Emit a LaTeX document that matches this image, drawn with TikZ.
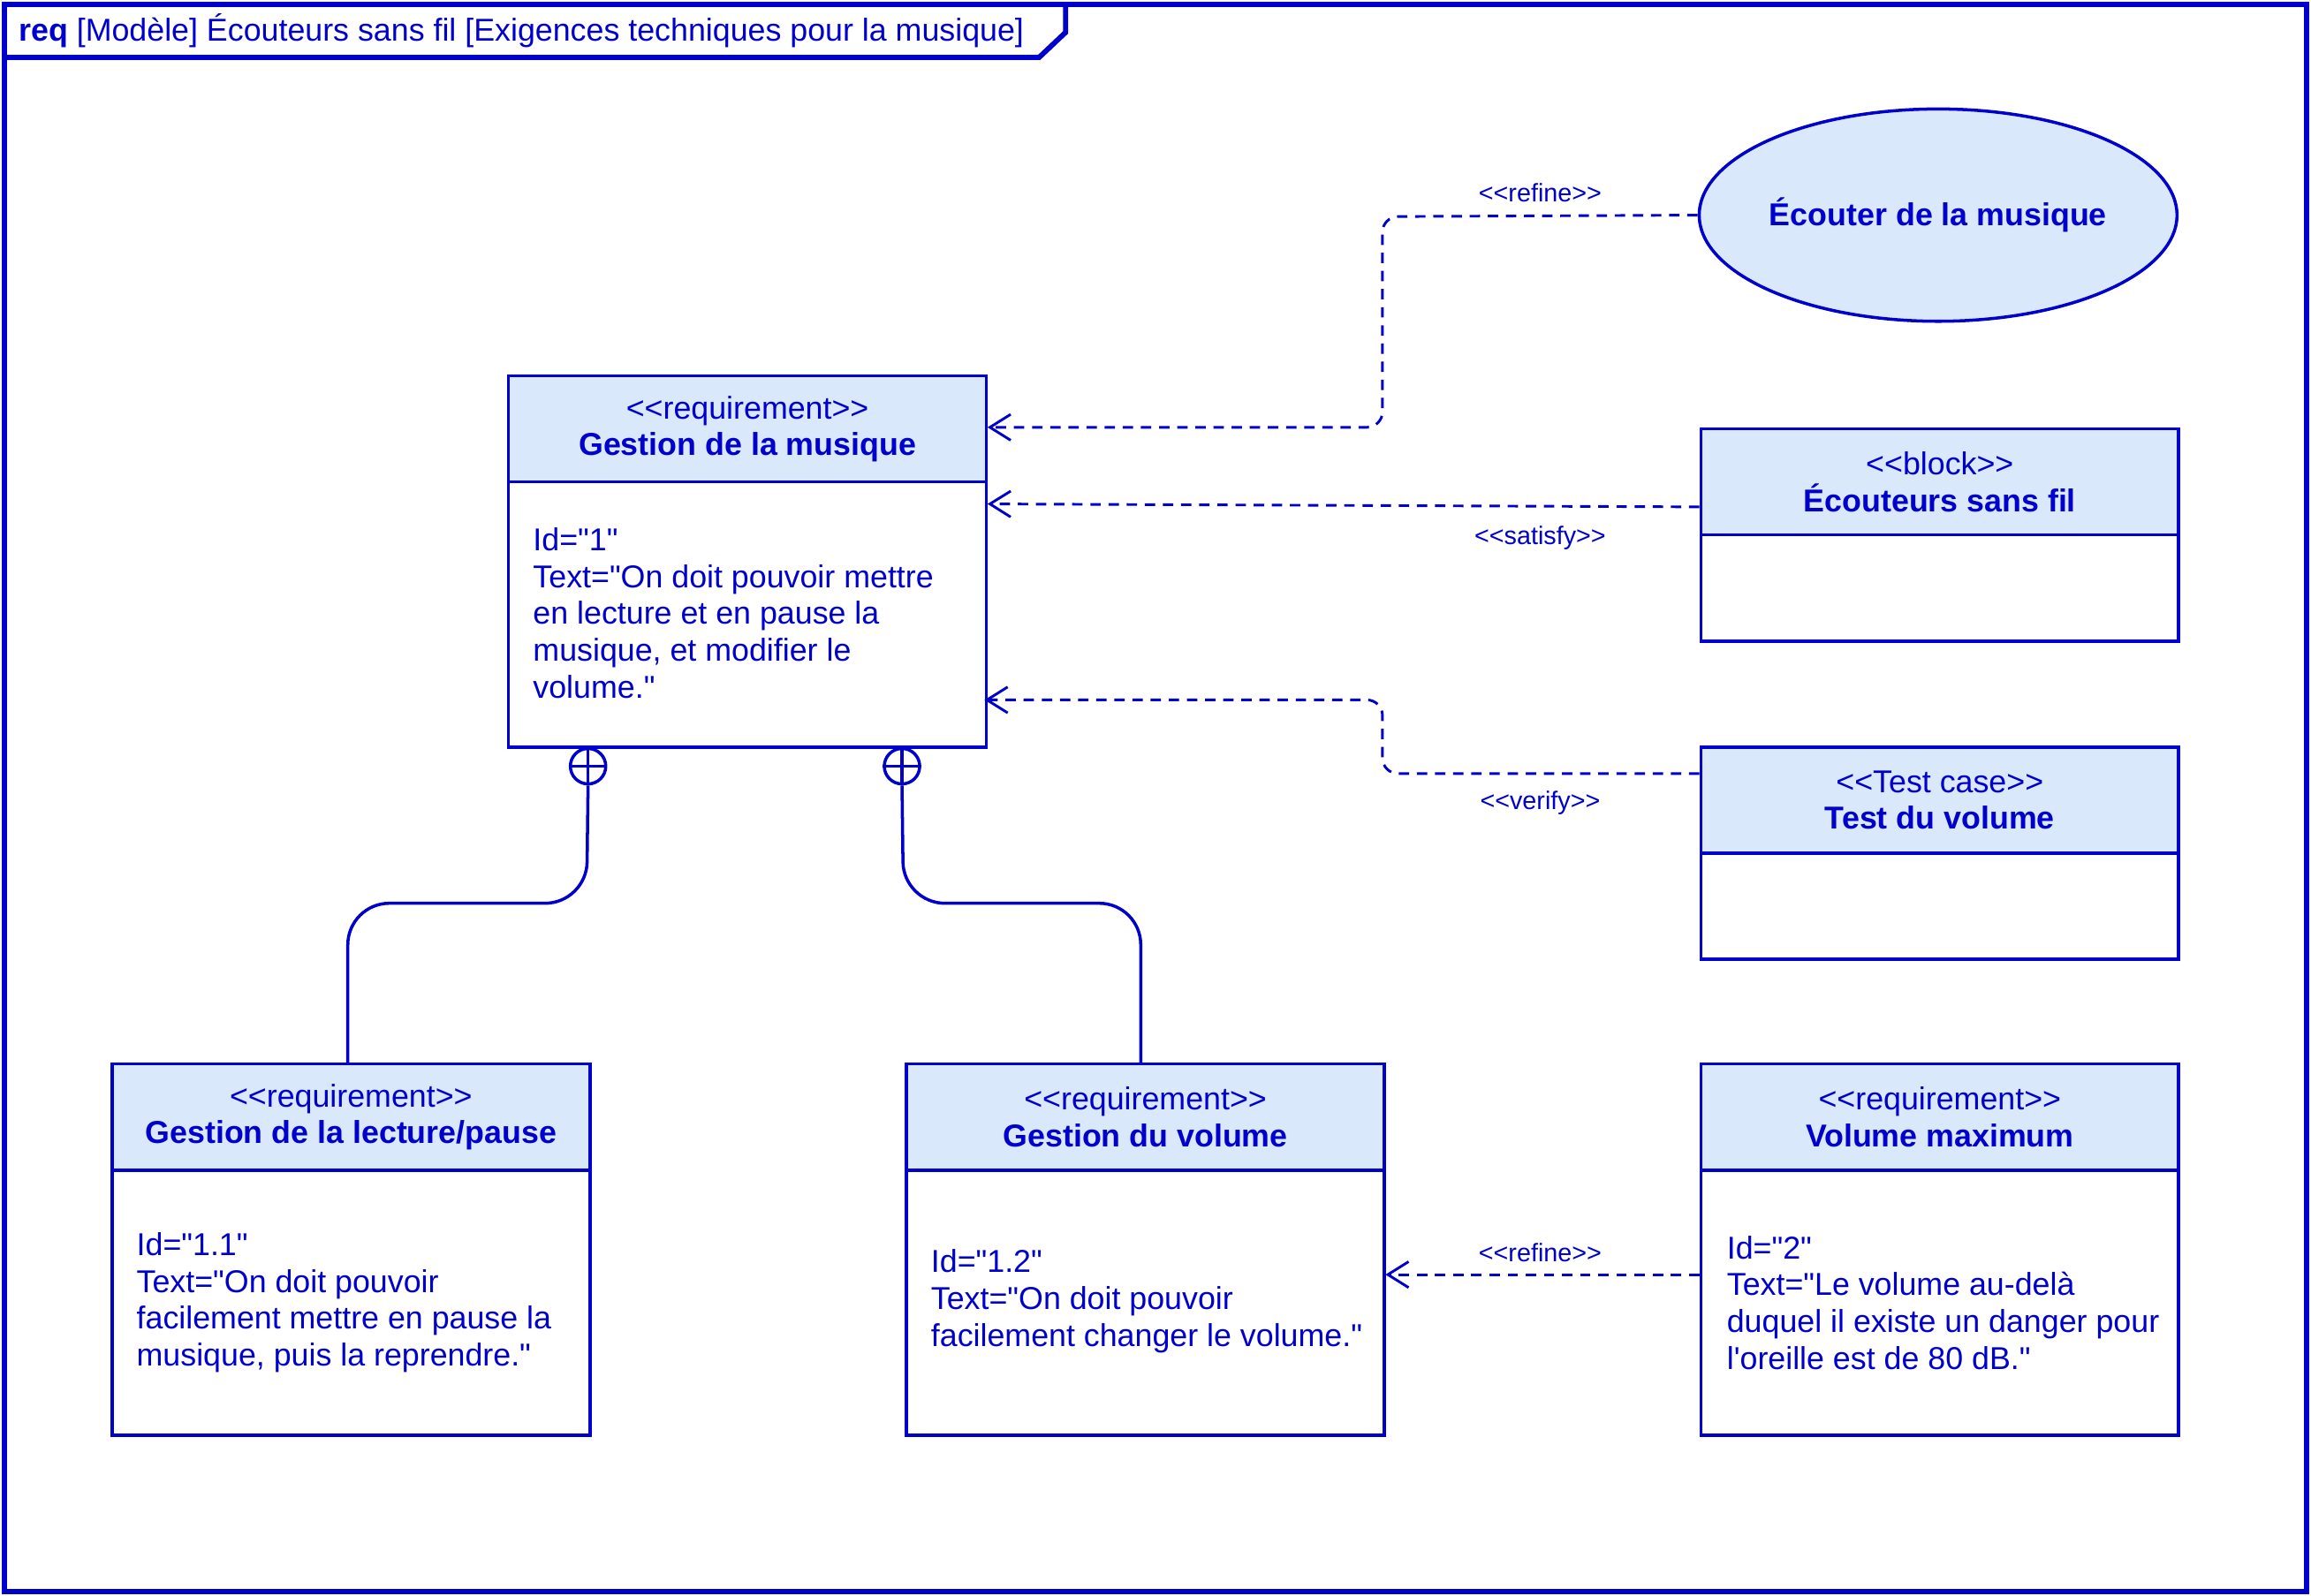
\documentclass[tikz,border=0pt]{standalone}
\usepackage{fontspec}
\setmainfont{Liberation Sans}[Ligatures=TeXOff]
\usetikzlibrary{arrows.meta,shapes.geometric}
\definecolor{bl}{HTML}{0000CC}
\definecolor{fl}{HTML}{DAE8FC}
\newcommand\stt[1]{<{}<#1>{}>}
\begin{document}
\begin{tikzpicture}[x=0.01cm,y=-0.01cm,
  every node/.style={text=bl,font=\fontsize{6.1}{7.1}\selectfont,inner sep=0pt},
  hdr/.style={draw=bl,fill=fl,line width=0.6pt,minimum width=3.24cm,minimum height=0.72cm,anchor=north west,align=center},
  bdy/.style={draw=bl,fill=white,line width=0.6pt,minimum width=3.24cm,anchor=north west},
  txt/.style={anchor=west,align=left},
  lbl/.style={font=\fontsize{4.9}{5.5}\selectfont},
  dep/.style={draw=bl,line width=0.5pt,dash pattern=on 2pt off 1.5pt,rounded corners=3pt,-{Straight Barb[open,length=4pt,width=5pt]}},
  cont/.style={draw=bl,line width=0.6pt,rounded corners=8pt}]
\useasboundingbox (0,0) rectangle (1568,1083);
\draw[bl,line width=1pt] (3,3) rectangle (1565,1080);
\draw[bl,line width=1pt] (3,3) -- (723,3) -- (723,22) -- (705,39) -- (3,39);
\node[anchor=west] (title) at (12,21) {\textbf{req} [Modèle] Écouteurs sans fil [Exigences techniques pour la musique]};
% main requirement
\node[hdr] (mh) at (344,254) {\stt{requirement}\\\textbf{Gestion de la musique}};
\node[bdy,minimum height=1.8cm] (mb) at (344,326) {};
\node[txt] (mt) at (361,416) {Id="1"\\Text="On doit pouvoir mettre\\en lecture et en pause la\\musique, et modifier le\\volume."};
% ellipse
\node[ellipse,draw=bl,fill=fl,line width=0.6pt,minimum width=3.24cm,minimum height=1.44cm] (uc) at (1315,146) {\textbf{Écouter de la musique}};
% block
\node[hdr] (bh) at (1153,290) {\stt{block}\\\textbf{Écouteurs sans fil}};
\node[bdy,minimum height=0.72cm] (bb) at (1153,362) {};
% test
\node[hdr] (th) at (1153,506) {\stt{Test case}\\\textbf{Test du volume}};
\node[bdy,minimum height=0.72cm] (tb) at (1153,578) {};
% bottom
\node[hdr] (lh) at (75,721) {\stt{requirement}\\\textbf{Gestion de la lecture/pause}};
\node[bdy,minimum height=1.8cm] (lb) at (75,793) {};
\node[txt] (lt) at (92,884) {Id="1.1"\\Text="On doit pouvoir\\facilement mettre en pause la\\musique, puis la reprendre."};
\node[hdr] (vh) at (614,721) {\stt{requirement}\\\textbf{Gestion du volume}};
\node[bdy,minimum height=1.8cm] (vb) at (614,793) {};
\node[txt] (vt) at (631,883) {Id="1.2"\\Text="On doit pouvoir\\facilement changer le volume."};
\node[hdr] (xh) at (1153,721) {\stt{requirement}\\\textbf{Volume maximum}};
\node[bdy,minimum height=1.8cm] (xb) at (1153,793) {};
\node[txt] (xt) at (1171,884) {Id="2"\\Text="Le volume au-delà\\duquel il existe un danger pour\\l'oreille est de 80 dB."};
% containment
\node[circle,draw=bl,line width=0.6pt,minimum size=0.24cm] (c1) at (399,520) {};
\node[circle,draw=bl,line width=0.6pt,minimum size=0.24cm] (c2) at (612,520) {};
\draw[bl,line width=0.6pt] (c1.north)--(c1.south) (c1.west)--(c1.east) (c2.north)--(c2.south) (c2.west)--(c2.east);
\coordinate (e1) at (236,721);
\coordinate (e2) at (774,721);
\draw[cont] (c1.south) -- (398,613) -- (236,613) -- (e1);
\draw[cont] (c2.south) -- (613,613) -- (774,613) -- (e2);
% dependencies
\coordinate (a1) at (670,290);
\draw[dep] (uc.west) -- (938,147) -- (938,290) -- (a1);
\node[lbl] (l1) at (1045,131) {\stt{refine}};
\coordinate (a2) at (670,342);
\draw[dep] (1153,344) -- (a2);
\node[lbl] (l2) at (1045,365) {\stt{satisfy}};
\coordinate (a3) at (668,475);
\draw[dep] (1153,525) -- (938,525) -- (938,475) -- (a3);
\node[lbl] (l3) at (1045,545) {\stt{verify}};
\coordinate (a4) at (940,865);
\draw[dep] (1153,865) -- (a4);
\node[lbl] (l4) at (1045,850) {\stt{refine}};
\end{tikzpicture}
\end{document}
